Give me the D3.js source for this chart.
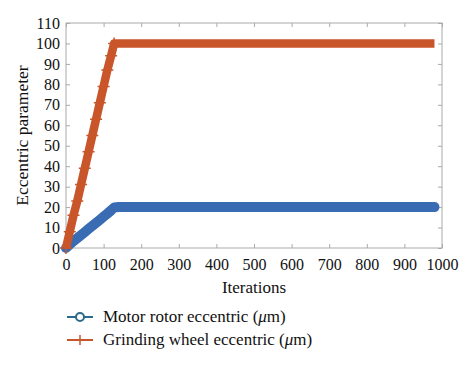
<!DOCTYPE html>
<html lang="en">
<head>
<meta charset="utf-8">
<title>eccentric parameter</title>
<script src="https://d3js.org/d3.v7.min.js"></script>
<style>
  body{margin:0;background:#fff;font-family:"Liberation Serif","DejaVu Serif",serif;}
  .axis text{font-family:"Liberation Serif",serif;font-size:16px;fill:#111;}
  .axis path,.axis line{stroke:#aaa;}
</style>
</head>
<body>
<div id="chart"></div>
<script>
// iterations (points along each curve)
var iters = [0,10,20,30,40,50,60,70,80,90,100,110,120,128,140,200,300,400,500,600,700,800,900,980]
var motorRotor = [0,1.8,3.3,4.8,6.3,7.8,9.3,10.8,12.3,13.8,15.3,16.8,18.4,19.8,20,20,20,20,20,20,20,20,20,20]
var grindingWheel = [0,8,16,23,31,39,47,55,63,71,79,87,94,100,100,100,100,100,100,100,100,100,100,100]
var xTicks = [0,100,200,300,400,500,600,700,800,900,1000]
var yTicks = [0,10,20,30,40,50,60,70,80,90,100,110]
var legendNames = ["Motor rotor eccentric (","Grinding wheel eccentric ("]

var W = 474, H = 366
var mLeft = 66, mRight = 442, mTop = 23, mBottom = 248

var svg = d3.select("#chart").append("svg").attr("width",W).attr("height",H)

var x = d3.scaleLinear().domain([0,1000]).range([mLeft,mRight])
var y = d3.scaleLinear().domain([0,110]).range([mBottom,mTop])

// box
svg.append("rect").attr("x",mLeft).attr("y",mTop).attr("width",mRight-mLeft).attr("height",mBottom-mTop)
   .attr("fill","none").attr("stroke","#aaa").attr("stroke-width",1)

var xAxis = svg.append("g").attr("class","axis").attr("transform","translate(0,"+mBottom+")")
  .call(d3.axisBottom(x).tickValues(xTicks).tickFormat(d3.format("d")).tickSizeInner(-4).tickSizeOuter(0).tickPadding(8))
var yAxis = svg.append("g").attr("class","axis").attr("transform","translate("+mLeft+",0)")
  .call(d3.axisLeft(y).tickValues(yTicks).tickSizeInner(-4).tickSizeOuter(0).tickPadding(6))
svg.append("g").attr("class","axis").attr("transform","translate(0,"+mTop+")")
  .call(d3.axisTop(x).tickValues(xTicks).tickSizeInner(-4).tickSizeOuter(0).tickFormat(""))
svg.append("g").attr("class","axis").attr("transform","translate("+mRight+",0)")
  .call(d3.axisRight(y).tickValues(yTicks).tickSizeInner(-4).tickSizeOuter(0).tickFormat(""))
svg.selectAll(".axis .domain").remove()
xAxis.selectAll("text").attr("dy","0.85em")

var line = d3.line().x(function(d){return x(d[0])}).y(function(d){return y(d[1])})

var blue = "#3a6cb4", orange = "#c9562a"

// motor rotor: thick band of circle markers
var mData = d3.zip(iters,motorRotor)
svg.append("path").datum(mData).attr("d",line).attr("fill","none")
   .attr("stroke",blue).attr("stroke-width",10).attr("stroke-linejoin","round").attr("stroke-linecap","round")

// grinding wheel: thick band of plus markers
var gData = d3.zip(iters,grindingWheel)
svg.append("path").datum(gData).attr("d",line).attr("fill","none")
   .attr("stroke",orange).attr("stroke-width",8.5).attr("stroke-linejoin","round")
svg.selectAll(".plus").data(gData.filter(function(d){return d[0]<=128})).enter()
   .append("path").attr("class","plus")
   .attr("transform",function(d){return "translate("+x(d[0])+","+y(d[1])+")"})
   .attr("d","M-6,0H6M0,-6V6").attr("stroke",orange).attr("stroke-width",1.5)

// axis titles
svg.append("text").attr("x",(mLeft+mRight)/2).attr("y",293).attr("text-anchor","middle")
   .attr("font-size",17).attr("fill","#111").text("Iterations")
svg.append("text").attr("transform","translate(28,"+((mTop+mBottom)/2)+") rotate(-90)")
   .attr("text-anchor","middle").attr("font-size",17.5).attr("fill","#111").text("Eccentric parameter")

// legend
var lg = svg.append("g")
var ly = [317,340]
lg.append("line").attr("x1",67).attr("x2",93).attr("y1",ly[0]).attr("y2",ly[0]).attr("stroke","#2b6a8c").attr("stroke-width",2)
lg.append("circle").attr("cx",80).attr("cy",ly[0]).attr("r",4).attr("fill","#fff").attr("stroke","#2b6a8c").attr("stroke-width",2)
lg.append("line").attr("x1",67).attr("x2",93).attr("y1",ly[1]).attr("y2",ly[1]).attr("stroke",orange).attr("stroke-width",2)
lg.append("line").attr("x1",80).attr("x2",80).attr("y1",ly[1]-5).attr("y2",ly[1]+5).attr("stroke",orange).attr("stroke-width",1.5)
var lt = lg.selectAll("text.lab").data(legendNames).enter().append("text").attr("class","lab")
   .attr("x",103).attr("y",function(d,i){return ly[i]+5})
   .attr("font-size",17).attr("fill","#111")
lt.append("tspan").text(function(d){return d})
lt.append("tspan").attr("font-style","italic").text("\u03bc")
lt.append("tspan").text("m)")
</script>
</body>
</html>
